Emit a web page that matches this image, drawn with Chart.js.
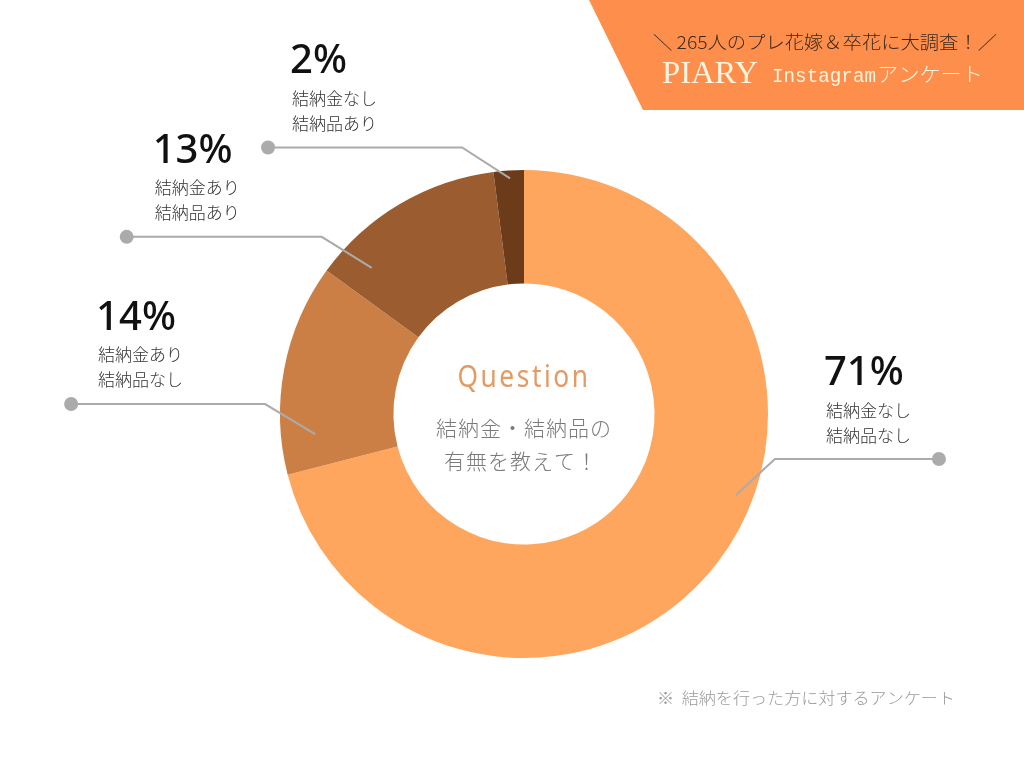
<!DOCTYPE html>
<html>
<head>
<meta charset="utf-8">
<script src="https://cdn.jsdelivr.net/npm/chart.js@4.4.1/dist/chart.umd.min.js"></script>
<style>
  html, body { margin: 0; padding: 0; background: #fff; }
  #wrap { width: 1024px; height: 768px; position: relative; }
</style>
</head>
<body>
<div id="wrap"><canvas id="chart" width="1024" height="768"></canvas></div>
<script>
// data, clockwise from 12 o'clock
const values = [71, 14, 13, 2];
const labelLine1 = ['結納金なし', '結納金あり', '結納金あり', '結納金なし'];
const labelLine2 = ['結納品なし', '結納品なし', '結納品あり', '結納品あり'];
const sliceColors = ['#FEA65D', '#CC7F45', '#9B5D2F', '#6B3B1A'];

const headerLine1 = '＼ 265人のプレ花嫁＆卒花に大調査！／';
const headerBrand = 'PIARY';
const headerInsta = 'Instagram';
const headerSub = 'アンケート';
const centerTitle = 'Question';
const centerLines = ['結納金・結納品の', '有無を教えて！'];
const footNote = '※  結納を行った方に対するアンケート';

// where each leader line touches its slice (fraction along the arc, fraction of radius),
// which way it runs, and how the text block sits relative to the dot
const leaders = [
  { frac: 0.434, rad: 0.93, dir: 1, elbowDx: 39, elbowDy: -36, run: 164, textDx: -113 },
  { frac: 0.177, rad: 0.86, dir: -1, elbowDx: 50, elbowDy: -30, run: 194, textDx: 27 },
  { frac: 0.167, rad: 0.865, dir: -1, elbowDx: 50, elbowDy: -31, run: 195, textDx: 28 },
  { frac: 0.53, rad: 0.967, dir: -1, elbowDx: 48, elbowDy: -31, run: 194, textDx: 24 }
];

const JP = '"Noto Sans CJK JP", "Noto Sans", sans-serif';

// squeeze/stretch a string horizontally to a given width
function fitText(ctx, text, x, y, width) {
  const w = ctx.measureText(text).width;
  ctx.save();
  ctx.translate(x, y);
  ctx.scale(width / w, 1);
  ctx.fillText(text, 0, 0);
  ctx.restore();
}

const decorPlugin = {
  id: 'decor',
  beforeDraw(chart) {
    const ctx = chart.ctx;
    ctx.save();
    ctx.fillStyle = '#fff';
    ctx.fillRect(0, 0, chart.width, chart.height);
    // header banner
    ctx.fillStyle = '#FD8E4B';
    ctx.beginPath();
    ctx.moveTo(589, 0);
    ctx.lineTo(1024, 0);
    ctx.lineTo(1024, 110);
    ctx.lineTo(643, 110);
    ctx.closePath();
    ctx.fill();

    ctx.fillStyle = '#3B2A1F';
    ctx.textBaseline = 'middle';
    ctx.textAlign = 'left';
    ctx.font = '300 18px ' + JP;
    fitText(ctx, headerLine1, 653, 42, 344);

    ctx.fillStyle = '#FFF4E0';
    ctx.textBaseline = 'alphabetic';
    ctx.font = '32px "Liberation Serif", serif';
    fitText(ctx, headerBrand, 662, 83, 96);
    ctx.font = '20px "Liberation Mono", monospace';
    fitText(ctx, headerInsta, 772, 82, 104);
    ctx.font = '300 20px ' + JP;
    fitText(ctx, headerSub, 877, 82, 106);
    ctx.restore();
  },
  afterDraw(chart) {
    const ctx = chart.ctx;
    const meta = chart.getDatasetMeta(0);
    const first = meta.data[0];
    const cx = first.x, cy = first.y;

    ctx.save();
    // center text
    ctx.textAlign = 'center';
    ctx.textBaseline = 'alphabetic';
    ctx.fillStyle = '#E39A63';
    ctx.font = '400 31px "Noto Sans", sans-serif';
    ctx.letterSpacing = '3px';
    const qw = ctx.measureText(centerTitle).width;
    ctx.save();
    ctx.translate(cx, 387);
    ctx.scale(133 / qw, 1);
    ctx.fillText(centerTitle, 0, 0);
    ctx.restore();
    ctx.letterSpacing = '0px';

    ctx.fillStyle = '#7A7A7A';
    ctx.textBaseline = 'middle';
    ctx.font = '300 21px ' + JP;
    ctx.letterSpacing = '1px';
    ctx.fillText(centerLines[0], cx, 428);
    ctx.fillText(centerLines[1], cx - 3, 461);
    ctx.letterSpacing = '0px';

    // leader lines and labels
    meta.data.forEach((arc, i) => {
      const L = leaders[i];
      const a = arc.startAngle + L.frac * (arc.endAngle - arc.startAngle);
      const r = arc.outerRadius * L.rad;
      const ex = cx + r * Math.cos(a);
      const ey = cy + r * Math.sin(a);
      const bx = ex + L.dir * L.elbowDx;
      const by = ey + L.elbowDy;
      const dx = bx + L.dir * L.run;

      ctx.strokeStyle = '#ABABAB';
      ctx.lineWidth = 2;
      ctx.beginPath();
      ctx.moveTo(ex, ey);
      ctx.lineTo(bx, by);
      ctx.lineTo(dx, by);
      ctx.stroke();
      ctx.fillStyle = '#ABABAB';
      ctx.beginPath();
      ctx.arc(dx, by, 7, 0, Math.PI * 2);
      ctx.fill();

      const tx = dx + L.textDx;
      ctx.textAlign = 'left';
      ctx.fillStyle = '#111';
      ctx.textBaseline = 'alphabetic';
      ctx.font = '500 40px "Noto Sans", sans-serif';
      ctx.fillText(values[i] + '%', tx - 2, by - 74);
      ctx.fillStyle = '#333';
      ctx.textBaseline = 'middle';
      ctx.font = '300 17px ' + JP;
      ctx.fillText(labelLine1[i], tx, by - 49);
      ctx.fillText(labelLine2[i], tx, by - 24);
    });

    // footnote
    ctx.fillStyle = '#9A9A9A';
    ctx.textAlign = 'left';
    ctx.textBaseline = 'middle';
    ctx.font = '300 16px ' + JP;
    fitText(ctx, footNote, 657, 698, 298);
    ctx.restore();
  }
};

new Chart(document.getElementById('chart'), {
  type: 'doughnut',
  data: {
    labels: labelLine1.map((t, i) => t + ' ' + labelLine2[i]),
    datasets: [{
      data: values,
      backgroundColor: sliceColors,
      borderWidth: 0
    }]
  },
  options: {
    responsive: false,
    animation: false,
    cutout: '53.5%',
    layout: { padding: { left: 280, right: 256, top: 170, bottom: 110 } },
    plugins: { legend: { display: false }, tooltip: { enabled: false } }
  },
  plugins: [decorPlugin]
});
</script>
</body>
</html>
